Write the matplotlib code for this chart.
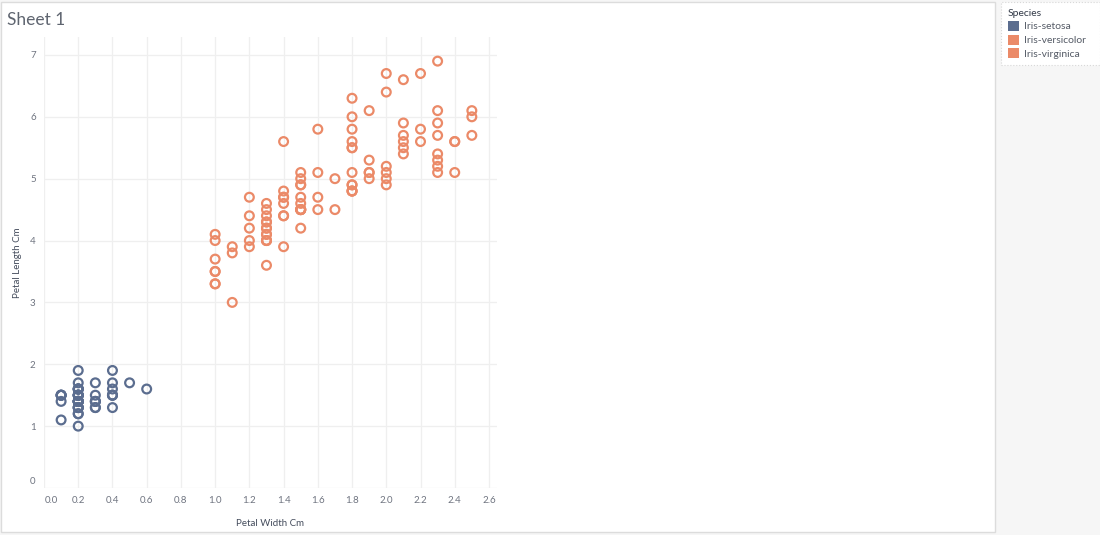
import matplotlib.pyplot as plt
from matplotlib.patches import Patch, Rectangle
from matplotlib.transforms import ScaledTranslation

# IRIS DATA - PETAL WIDTH / PETAL LENGTH BY SPECIES
setosa_w = [0.2, 0.2, 0.2, 0.2, 0.2, 0.4, 0.3, 0.2, 0.2, 0.1,
            0.2, 0.2, 0.1, 0.1, 0.2, 0.4, 0.4, 0.3, 0.3, 0.3,
            0.2, 0.4, 0.2, 0.5, 0.2, 0.2, 0.4, 0.2, 0.2, 0.2,
            0.2, 0.4, 0.1, 0.2, 0.1, 0.2, 0.2, 0.1, 0.2, 0.2,
            0.3, 0.3, 0.2, 0.6, 0.4, 0.3, 0.2, 0.2, 0.2, 0.2]
setosa_l = [1.4, 1.4, 1.3, 1.5, 1.4, 1.7, 1.4, 1.5, 1.4, 1.5,
            1.5, 1.6, 1.4, 1.1, 1.2, 1.5, 1.3, 1.4, 1.7, 1.5,
            1.7, 1.5, 1.0, 1.7, 1.9, 1.6, 1.6, 1.5, 1.4, 1.6,
            1.6, 1.5, 1.5, 1.4, 1.5, 1.2, 1.3, 1.5, 1.3, 1.5,
            1.3, 1.3, 1.3, 1.6, 1.9, 1.4, 1.6, 1.4, 1.5, 1.4]

versicolor_w = [1.4, 1.5, 1.5, 1.3, 1.5, 1.3, 1.6, 1.0, 1.3, 1.4,
                1.0, 1.5, 1.0, 1.4, 1.3, 1.4, 1.5, 1.0, 1.5, 1.1,
                1.8, 1.3, 1.5, 1.2, 1.3, 1.4, 1.4, 1.7, 1.5, 1.0,
                1.1, 1.0, 1.2, 1.6, 1.5, 1.6, 1.5, 1.3, 1.3, 1.3,
                1.2, 1.4, 1.2, 1.0, 1.3, 1.2, 1.3, 1.3, 1.1, 1.3]
versicolor_l = [4.7, 4.5, 4.9, 4.0, 4.6, 4.5, 4.7, 3.3, 4.6, 3.9,
                3.5, 4.2, 4.0, 4.7, 3.6, 4.4, 4.5, 4.1, 4.5, 3.9,
                4.8, 4.0, 4.9, 4.7, 4.3, 4.4, 4.8, 5.0, 4.5, 3.5,
                3.8, 3.7, 3.9, 5.1, 4.5, 4.5, 4.7, 4.4, 4.1, 4.0,
                4.4, 4.6, 4.0, 3.3, 4.2, 4.2, 4.2, 4.3, 3.0, 4.1]

virginica_w = [2.5, 1.9, 2.1, 1.8, 2.2, 2.1, 1.7, 1.8, 1.8, 2.5,
               2.0, 1.9, 2.1, 2.0, 2.4, 2.3, 1.8, 2.2, 2.3, 1.5,
               2.3, 2.0, 2.0, 1.8, 2.1, 1.8, 1.8, 1.8, 2.1, 1.6,
               1.9, 2.0, 2.2, 1.5, 1.4, 2.3, 2.4, 1.8, 1.8, 2.1,
               2.4, 2.3, 1.9, 2.3, 2.5, 2.3, 1.9, 2.0, 2.3, 1.8]
virginica_l = [6.0, 5.1, 5.9, 5.6, 5.8, 6.6, 4.5, 6.3, 5.8, 6.1,
               5.1, 5.3, 5.5, 5.0, 5.1, 5.3, 5.5, 6.7, 6.9, 5.0,
               5.7, 4.9, 6.7, 4.9, 5.7, 6.0, 4.8, 4.9, 5.6, 5.8,
               6.1, 6.4, 5.6, 5.1, 5.6, 6.1, 5.6, 5.5, 4.8, 5.4,
               5.6, 5.1, 5.1, 5.9, 5.7, 5.2, 5.0, 5.2, 5.4, 5.1]

species = ['Iris-setosa', 'Iris-versicolor', 'Iris-virginica']
colors = ['#5b6d8f', '#eb8a68', '#eb8a68']

x_ticks = [round(0.2 * i, 1) for i in range(14)]
y_ticks = list(range(8))

plt.rcParams['font.family'] = ['Lato', 'DejaVu Sans']

fig = plt.figure(figsize=(11, 5.35), dpi=100)
fig.patch.set_facecolor('#f6f6f6')

# white sheet panel, behind the axes
sheet = Rectangle((0.5/1100, 1 - 532/535), 994/1100, 530/535,
                  transform=fig.transFigure, facecolor='white',
                  edgecolor='#dcdcdc', lw=1, zorder=-5)
fig.add_artist(sheet)

# legend card
card = Rectangle((1001/1100, 1 - 65/535), 99/1100, 63/535,
                 transform=fig.transFigure, facecolor='white',
                 edgecolor='#d8d8d8', lw=0.8, ls=':', zorder=-5)
fig.add_artist(card)

ax = fig.add_axes([44/1100, 1 - 488/535, 453/1100, 451/535])
ax.patch.set_alpha(0)
series = [(setosa_w, setosa_l), (versicolor_w, versicolor_l), (virginica_w, virginica_l)]
for (w, l), c in zip(series, colors):
    ax.scatter(w, l, s=40, facecolors='none', edgecolors=c, linewidths=1.6,
               zorder=3, clip_on=False)

ax.set_xlim(0, 2.647)
ax.set_ylim(0, 7.29)
ax.set_xticks(x_ticks)
ax.set_xticklabels(['%.1f' % t for t in x_ticks])
ax.set_yticks(y_ticks)
ax.grid(True, color='#efefef', lw=0.9)
ax.set_axisbelow(True)
for s in ax.spines.values():
    s.set_visible(False)
ax.tick_params(length=0, labelsize=7, colors='#6f7480', pad=6)
ax.set_xlabel('Petal Width Cm', fontsize=7, color='#444c5c', labelpad=10)
ax.set_ylabel('Petal Length Cm', fontsize=7, color='#444c5c', labelpad=6)

# edge labels are nudged inward, like the original
fig.canvas.draw()
xl0 = ax.get_xticklabels()[0]
xl0.set_transform(xl0.get_transform() + ScaledTranslation(0.07, 0, fig.dpi_scale_trans))
yl0 = ax.get_yticklabels()[0]
yl0.set_transform(yl0.get_transform() + ScaledTranslation(0, 0.08, fig.dpi_scale_trans))

fig.text(7/1100, 1 - 20/535, 'Sheet 1', fontsize=12.5, color='#5f6570', va='center')

handles = [Patch(facecolor=c, edgecolor='none') for c in colors]
leg = fig.legend(handles, species, title='Species', loc='upper left',
                 bbox_to_anchor=(1000/1100, 1 - 1/535), fontsize=7.5,
                 title_fontsize=7.5, handlelength=1.1, handleheight=1.1,
                 handletextpad=0.45, labelspacing=0.3, borderpad=0.25,
                 alignment='left', frameon=False)
for t in leg.get_texts():
    t.set_color('#555b66')
leg.get_title().set_color('#333a48')

fig.savefig('out.png', dpi=100, facecolor=fig.get_facecolor())
